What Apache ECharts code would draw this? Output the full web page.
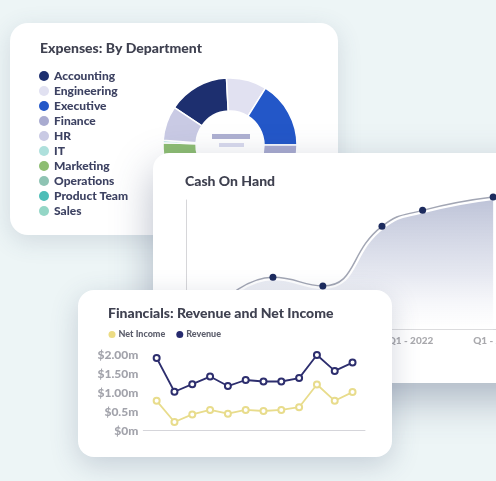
<!DOCTYPE html>
<html>
<head>
<meta charset="utf-8">
<script src="https://cdn.jsdelivr.net/npm/echarts@6/dist/echarts.min.js"></script>
<style>
  html, body { margin:0; padding:0; width:496px; height:481px; overflow:hidden; background:#edf5f6; font-family: Lato, "Noto Sans", sans-serif; }
  .card { position:absolute; background:#fff; overflow:hidden; }
  #c1 { left:10px; top:23px; width:328px; height:212px; border-radius:18px; box-shadow:0 6px 24px rgba(60,80,110,0.16); z-index:1; }
  #c2 { left:153px; top:153px; width:400px; height:230px; border-radius:16px; box-shadow:0 16px 40px rgba(55,70,105,0.36); z-index:2; }
  #c3 { left:78px; top:290px; width:314px; height:167px; border-radius:16px; box-shadow:0 8px 28px rgba(60,75,110,0.22); z-index:3; }
  .chart { position:absolute; left:0; top:0; width:100%; height:100%; }
</style>
</head>
<body>
<div class="card" id="c1"><div class="chart" id="ch1"></div></div>
<div class="card" id="c2"><div class="chart" id="ch2"></div></div>
<div class="card" id="c3"><div class="chart" id="ch3"></div></div>
<script>
// ---------- Expenses: By Department ----------
var deptLegendOrder = ['Accounting','Engineering','Executive','Finance','HR','IT','Marketing','Operations','Product Team','Sales'];
var deptColors = {
  'Accounting':'#1d2f6f','Engineering':'#e1e1f1','Executive':'#2357c8','Finance':'#a9abd0','HR':'#c9cae4',
  'IT':'#aee0dc','Marketing':'#8dbd72','Operations':'#8ec3b3','Product Team':'#4dbdb7','Sales':'#94d6c6'
};
// slice order around the ring (clockwise) and estimated shares
var deptSliceOrder = ['Accounting','Engineering','Executive','Finance','Sales','Product Team','Operations','Marketing','IT','HR'];
var deptValues     = [53, 35, 58, 50, 30, 35, 27, 40, 2, 30];

// ---------- Cash On Hand ----------
var cashMonths = [-2.3, 4.7, 11.7, 20.0, 25.7, 35.6];
var cashValues = [2.2, 4.03, 3.36, 7.97, 9.2, 10.23];
var cashTickValues = [0, 12, 24, 36];
var cashTickLabels = ['Q1 - 2020', 'Q1 - 2021', 'Q1 - 2022', 'Q1 - 2023'];

// ---------- Financials ----------
var finMonths = ['Jan','Feb','Mar','Apr','May','Jun','Jul','Aug','Sep','Oct','Nov','Dec'];
var revenue   = [1.92, 1.03, 1.23, 1.43, 1.18, 1.34, 1.30, 1.30, 1.39, 2.00, 1.58, 1.80];
var netIncome = [0.79, 0.23, 0.43, 0.55, 0.45, 0.55, 0.52, 0.55, 0.62, 1.22, 0.79, 1.02];
var finTickLabels = ['$0m', '$0.5m', '$1.00m', '$1.50m', '$2.00m'];

var titleStyle = { fontFamily:'Lato', fontWeight:900, fontSize:14, color:'#3f4150' };

// Chart 1
var ch1 = echarts.init(document.getElementById('ch1'));
ch1.setOption({
  animation:false,
  title:{ text:'Expenses: By Department', left:30, top:18, padding:0, textStyle:titleStyle },
  legend:{
    orient:'vertical', left:29, top:47, padding:0, icon:'circle', itemWidth:10, itemHeight:10, itemGap:3,
    data: deptLegendOrder,
    itemStyle:{ borderWidth:0 },
    textStyle:{ fontFamily:'Lato', fontWeight:900, fontSize:12, lineHeight:12, color:'#3d4262' },
    selectedMode:false
  },
  color: deptSliceOrder.map(function(n){ return deptColors[n]; }),
  series:[{
    type:'pie', center:[220,122], radius:[34,67], startAngle:146, clockwise:true,
    label:{show:false}, labelLine:{show:false}, silent:true,
    itemStyle:{ borderColor:'#fff', borderWidth:1.5 },
    data: deptSliceOrder.map(function(n,i){ return { name:n, value:deptValues[i], itemStyle:{color:deptColors[n]} }; })
  }],
  graphic:[
    { type:'rect', shape:{ x:202, y:111, width:38, height:5 }, style:{ fill:'#aeb0d2' } },
    { type:'rect', shape:{ x:209, y:120, width:25, height:4 }, style:{ fill:'#d9daee' } }
  ]
});

// Chart 2
var ch2 = echarts.init(document.getElementById('ch2'));
var cashData = cashMonths.map(function(m,i){ return [m, cashValues[i]]; });
ch2.setOption({
  animation:false,
  title:{ text:'Cash On Hand', left:32, top:21, padding:0, textStyle:titleStyle },
  grid:{ left:33, top:47, right:28.5, bottom:53.5 },
  xAxis:{
    type:'value', min:-7.5, max:40,
    axisLine:{ show:true, onZero:false, lineStyle:{ color:'#d6d6d9', width:1 } },
    axisTick:{ show:false }, splitLine:{ show:false },
    axisLabel:{
      customValues: cashTickValues, margin:6,
      formatter:function(v){ var k = cashTickValues.indexOf(v); return k >= 0 ? cashTickLabels[k] : ''; },
      fontFamily:'Lato', fontWeight:900, fontSize:10, color:'#a9a9ad'
    }
  },
  yAxis:{
    type:'value', min:0, max:10,
    axisLine:{ show:true, onZero:false, lineStyle:{ color:'#d6d6d9', width:1 } },
    axisTick:{ show:false }, axisLabel:{ show:false }, splitLine:{ show:false }
  },
  series:[
    {
      type:'line', data:cashData, smooth:0.5, clip:false, symbol:'none', silent:true,
      lineStyle:{ color:'#ffffff', width:6 },
      areaStyle:{ color: new echarts.graphic.LinearGradient(0,0,0,1,[
        { offset:0, color:'rgba(160,168,198,1)' },
        { offset:0.6, color:'rgba(214,218,232,0.85)' },
        { offset:1, color:'rgba(255,255,255,0.4)' }
      ]) }
    },
    {
      type:'line', data:cashData, smooth:0.5, clip:false, symbol:'circle', symbolSize:7, silent:true,
      lineStyle:{ color:'#a2a6b4', width:1.5 },
      itemStyle:{ color:'#1c2b5e' }
    }
  ]
});

// Chart 3
var ch3 = echarts.init(document.getElementById('ch3'));
var revData = revenue.map(function(v,i){ return [i, v]; });
var netData = netIncome.map(function(v,i){ return [i, v]; });
ch3.setOption({
  animation:false,
  title:{ text:'Financials: Revenue and Net Income', left:30, top:16, padding:0, textStyle:titleStyle },
  legend:{
    left:30.5, top:40, padding:0, icon:'circle', itemWidth:7, itemHeight:7, itemGap:11, selectedMode:false,
    data:[
      { name:'Net Income', itemStyle:{ color:'#ecdc84', borderWidth:0 } },
      { name:'Revenue', itemStyle:{ color:'#262a6e', borderWidth:0 } }
    ],
    textStyle:{ fontFamily:'Lato', fontWeight:900, fontSize:9, color:'#5c5e6c', padding:[0,0,0,-2] }
  },
  grid:{ left:65.3, top:65, right:27, bottom:26.3 },
  xAxis:{
    type:'value', min:-0.75, max:11.7,
    axisLine:{ show:true, onZero:false, lineStyle:{ color:'#d5d5da', width:1 } },
    axisTick:{ show:false }, axisLabel:{ show:false }, splitLine:{ show:false }
  },
  yAxis:{
    type:'value', min:0, max:2, interval:0.5,
    axisLine:{ show:false }, axisTick:{ show:false }, splitLine:{ show:false },
    axisLabel:{
      margin:5,
      formatter:function(v){ return finTickLabels[Math.round(v/0.5)]; },
      fontFamily:'Lato', fontWeight:900, fontSize:12, color:'#a2a3ab'
    }
  },
  series:[
    {
      name:'Net Income', type:'line', data:netData, symbol:'emptyCircle', symbolSize:6, silent:true,
      lineStyle:{ color:'#e8dc8c', width:1.8 }, itemStyle:{ color:'#e8dc8c', borderWidth:1.5 }
    },
    {
      name:'Revenue', type:'line', data:revData, symbol:'emptyCircle', symbolSize:6, silent:true,
      lineStyle:{ color:'#2d2e6e', width:1.8 }, itemStyle:{ color:'#2d2e6e', borderWidth:1.5 }
    }
  ]
});
</script>
</body>
</html>
